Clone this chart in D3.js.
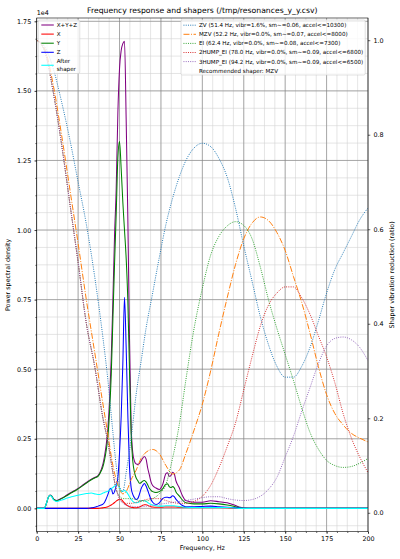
<!DOCTYPE html>
<html>
<head>
<meta charset="utf-8">
<title>Frequency response and shapers</title>
<script src="https://cdn.jsdelivr.net/npm/d3@7"></script>
<style>
  body { margin: 0; background: #fff; }
  svg { display: block; font-family: "DejaVu Sans", sans-serif; }
</style>
</head>
<body>
<svg id="chart" width="400" height="559"></svg>
<script>
// power spectral density (raw units, axis shows x1e4)
var psdFreqs = [0, 4.5, 6, 7, 8, 9, 10, 11, 12, 15, 18, 21, 24, 27, 30, 33, 35, 37, 39,
  40, 41, 42, 43, 44, 45, 46, 47, 48, 49, 50, 51, 52, 53, 54, 55, 56, 57, 58, 59, 60,
  61, 62, 63, 64, 65, 66, 67, 68, 69, 70,
  72, 74, 76, 78, 79, 80, 81, 82, 83, 84, 86, 88, 90, 95, 100, 105, 110, 115, 120, 123, 126, 130, 200];

var psdAll = [0, 0, 200, 400, 480, 450, 350, 300, 280, 360, 470, 580, 680, 800, 930, 1050, 1110, 1180, 1400,
  1600, 1900, 2300, 2900, 3900, 5400, 7500, 9800, 11500, 14200, 15800, 16450, 16700, 16780, 14000, 10500, 6200, 3000, 2000, 1700, 1600,
  1580, 1620, 1700, 1800, 1860, 1780, 1450, 1200, 950, 820,
  730, 680, 850, 1250, 1280, 1150, 1180, 1300, 1250, 1000, 750, 450, 280, 220, 220, 270, 240, 200, 100, 40, 10, 0, 0];

var psdX = [0, 0, 0, 0, 0, 0, 0, 0, 0, 0, 0, 0, 0, 0, 0, 0, 0, 0, 10,
  20, 30, 40, 60, 90, 120, 160, 210, 260, 300, 330, 320, 260, 190, 130, 90, 60, 40, 30, 20, 20,
  30, 50, 80, 110, 130, 130, 110, 80, 60, 50,
  40, 40, 40, 50, 50, 50, 50, 50, 50, 50, 40, 30, 30, 30, 40, 40, 30, 20, 10, 0, 0, 0, 0];

var psdY = [0, 0, 200, 390, 470, 440, 340, 290, 270, 350, 450, 560, 660, 780, 910, 1030, 1090, 1150, 1350,
  1500, 1750, 2100, 2600, 3500, 4800, 6800, 8800, 10600, 12600, 13180, 12200, 11000, 10000, 9000, 7500, 5000, 2700, 1700, 1300, 1100,
  1000, 900, 920, 980, 1000, 950, 850, 720, 650, 600,
  570, 600, 700, 870, 880, 780, 750, 780, 740, 600, 450, 300, 200, 160, 160, 180, 160, 120, 60, 20, 0, 0, 0];

var psdZ = [0, 0, 0, 0, 0, 0, 0, 0, 0, 0, 0, 0, 0, 0, 0, 20, 40, 80, 120,
  150, 220, 350, 500, 680, 720, 520, 600, 820, 1100, 2000, 3300, 5200, 7580, 5800, 3400, 1500, 750, 500, 380, 320,
  350, 500, 700, 820, 890, 800, 650, 480, 320, 220,
  140, 200, 350, 400, 400, 380, 400, 450, 420, 330, 200, 100, 60, 60, 70, 80, 60, 40, 20, 10, 0, 0, 0];

var psdAfter = [0, 0, 200, 400, 460, 430, 320, 270, 250, 300, 360, 420, 460, 500, 530, 550, 520, 500, 520,
  550, 570, 600, 620, 660, 700, 750, 800, 850, 850, 720, 600, 620, 640, 600, 520, 420, 330, 250, 210, 200,
  210, 240, 270, 280, 270, 250, 210, 170, 140, 120,
  90, 80, 80, 90, 90, 90, 90, 90, 90, 80, 70, 50, 40, 30, 30, 30, 30, 30, 10, 0, 0, 0, 0];

// shaper vibration reduction ratio
var shFreqs = [0, 5, 10, 15, 20, 25, 30, 35, 40, 43, 46, 48, 50, 52, 54, 57, 60, 63, 66,
  70, 74, 78, 82, 86, 90, 95, 100, 105, 110, 115, 120, 125, 130, 135, 140, 145, 150,
  155, 160, 165, 170, 175, 180, 185, 190, 195, 200];

var zv = [1.0, 0.985, 0.94, 0.87, 0.79, 0.70, 0.61, 0.50, 0.37, 0.28, 0.17, 0.10, 0.055, 0.045, 0.085, 0.157, 0.25, 0.32, 0.39,
  0.465, 0.54, 0.61, 0.665, 0.71, 0.745, 0.772, 0.782, 0.775, 0.75, 0.71, 0.645, 0.565, 0.49, 0.415, 0.355, 0.31, 0.287,
  0.287, 0.31, 0.35, 0.405, 0.465, 0.515, 0.55, 0.585, 0.62, 0.645];

var mzv = [1.0, 0.98, 0.905, 0.80, 0.685, 0.57, 0.45, 0.34, 0.23, 0.165, 0.10, 0.07, 0.05, 0.04, 0.045, 0.07, 0.09, 0.115, 0.128,
  0.134, 0.125, 0.10, 0.082, 0.09, 0.125, 0.175, 0.23, 0.30, 0.38, 0.455, 0.525, 0.58, 0.613, 0.626, 0.618, 0.593, 0.555,
  0.50, 0.445, 0.38, 0.31, 0.25, 0.21, 0.186, 0.168, 0.158, 0.15];

var ei = [1.0, 0.975, 0.89, 0.78, 0.655, 0.53, 0.40, 0.31, 0.20, 0.15, 0.085, 0.05, 0.035, 0.03, 0.03, 0.03, 0.028, 0.025, 0.025,
  0.03, 0.04, 0.06, 0.115, 0.185, 0.28, 0.39, 0.475, 0.545, 0.585, 0.607, 0.616, 0.608, 0.58, 0.52, 0.45, 0.39, 0.335,
  0.28, 0.222, 0.17, 0.135, 0.111, 0.10, 0.096, 0.098, 0.105, 0.115];

var hump2 = [1.0, 0.975, 0.89, 0.78, 0.655, 0.53, 0.40, 0.31, 0.20, 0.15, 0.085, 0.05, 0.03, 0.022, 0.02, 0.02, 0.022, 0.025, 0.028,
  0.03, 0.03, 0.026, 0.022, 0.02, 0.02, 0.024, 0.035, 0.058, 0.095, 0.14, 0.19, 0.26, 0.33, 0.395, 0.44, 0.465, 0.478,
  0.478, 0.455, 0.42, 0.375, 0.33, 0.275, 0.21, 0.158, 0.118, 0.085];

var hump3 = [1.0, 0.975, 0.89, 0.78, 0.655, 0.53, 0.40, 0.31, 0.20, 0.15, 0.085, 0.05, 0.03, 0.02, 0.016, 0.014, 0.013, 0.013, 0.014,
  0.016, 0.018, 0.02, 0.022, 0.024, 0.026, 0.029, 0.032, 0.034, 0.034, 0.03, 0.027, 0.026, 0.028, 0.035, 0.05, 0.075, 0.118,
  0.162, 0.215, 0.265, 0.315, 0.353, 0.369, 0.372, 0.366, 0.35, 0.322];

var shaperLabels = [
  "ZV (51.4 Hz, vibr=1.6%, sm~=0.06, accel<=10300)",
  "MZV (52.2 Hz, vibr=0.0%, sm~=0.07, accel<=8000)",
  "EI (62.4 Hz, vibr=0.0%, sm~=0.08, accel<=7300)",
  "2HUMP_EI (78.0 Hz, vibr=0.0%, sm~=0.09, accel<=6800)",
  "3HUMP_EI (94.2 Hz, vibr=0.0%, sm~=0.09, accel<=6500)"
];
var recommended = "Recommended shaper: MZV";

var xTicks = [0, 25, 50, 75, 100, 125, 150, 175, 200];
var yTicks = [0, 2500, 5000, 7500, 10000, 12500, 15000, 17500];
var rTicks = [0, 0.2, 0.4, 0.6, 0.8, 1.0];

var svg = d3.select("#chart");
var plotL = 36.7, plotR = 368, plotT = 18, plotB = 531.7;

var x = d3.scaleLinear().domain([0, 200]).range([plotL, plotR]);
var psdMax = d3.max(psdAll);
var yL = d3.scaleLinear().domain([-0.05 * psdMax, 1.05 * psdMax]).range([plotB, plotT]);
var yR = d3.scaleLinear().domain([-0.04, 1.047]).range([plotB, plotT]);

var xMinor = d3.range(0, 200.01, 6.25);
var yMinor = d3.range(-625, 17700, 625).filter(function(v) {
  return v >= yL.domain()[0] && v <= yL.domain()[1];
});

svg.append("defs").append("clipPath").attr("id", "plotclip")
  .append("rect").attr("x", plotL).attr("y", plotT)
  .attr("width", plotR - plotL).attr("height", plotB - plotT);

// grid
var grid = svg.append("g");
grid.selectAll(".vmin").data(xMinor).enter().append("line")
  .attr("x1", x).attr("x2", x).attr("y1", plotT).attr("y2", plotB)
  .attr("stroke", "#d3d3d3").attr("stroke-width", 0.6);
grid.selectAll(".hmin").data(yMinor).enter().append("line")
  .attr("y1", yL).attr("y2", yL).attr("x1", plotL).attr("x2", plotR)
  .attr("stroke", "#d3d3d3").attr("stroke-width", 0.6);
grid.selectAll(".vmaj").data(xTicks).enter().append("line")
  .attr("x1", x).attr("x2", x).attr("y1", plotT).attr("y2", plotB)
  .attr("stroke", "#808080").attr("stroke-width", 0.6);
grid.selectAll(".hmaj").data(yTicks).enter().append("line")
  .attr("y1", yL).attr("y2", yL).attr("x1", plotL).attr("x2", plotR)
  .attr("stroke", "#808080").attr("stroke-width", 0.6);

var plot = svg.append("g").attr("clip-path", "url(#plotclip)");

function psdLine(vals) {
  return d3.line()
    .x(function(d, i) { return x(psdFreqs[i]); })
    .y(function(d) { return yL(d); })
    .curve(d3.curveMonotoneX)(vals);
}
function shLine(vals) {
  return d3.line()
    .x(function(d, i) { return x(shFreqs[i]); })
    .y(function(d) { return yR(d); })
    .curve(d3.curveMonotoneX)(vals);
}

var psdSeries = [
  { name: "X+Y+Z", vals: psdAll, color: "#800080" },
  { name: "X", vals: psdX, color: "#ff0000" },
  { name: "Y", vals: psdY, color: "#008000" },
  { name: "Z", vals: psdZ, color: "#0000ff" },
  { name: "After\nshaper", vals: psdAfter, color: "#00ffff" }
];
psdSeries.forEach(function(s) {
  plot.append("path").attr("d", psdLine(s.vals))
    .attr("fill", "none").attr("stroke", s.color).attr("stroke-width", 1.05);
});

var dotted = "0.95,1.3", dashdot = "6,1.5,1,1.5";
var shSeries = [
  { vals: zv, color: "#1f77b4", dash: dotted },
  { vals: mzv, color: "#ff7f0e", dash: dashdot },
  { vals: ei, color: "#2ca02c", dash: dotted },
  { vals: hump2, color: "#d62728", dash: dotted },
  { vals: hump3, color: "#9467bd", dash: dotted }
];
shSeries.forEach(function(s) {
  plot.append("path").attr("d", shLine(s.vals))
    .attr("fill", "none").attr("stroke", s.color).attr("stroke-width", 1)
    .attr("stroke-dasharray", s.dash);
});

// frame
svg.append("rect").attr("x", plotL).attr("y", plotT)
  .attr("width", plotR - plotL).attr("height", plotB - plotT)
  .attr("fill", "none").attr("stroke", "#000").attr("stroke-width", 0.6);

function styleAxis(g) {
  g.select(".domain").remove();
  g.selectAll("line").attr("stroke", "#000").attr("stroke-width", 0.6);
  g.selectAll("text").attr("font-family", "DejaVu Sans").attr("font-size", 6.4).attr("fill", "#000");
}

svg.append("g").attr("transform", "translate(0," + plotB + ")")
  .call(d3.axisBottom(x).tickValues(xMinor).tickSize(1.3).tickFormat(""))
  .call(styleAxis);
svg.append("g").attr("transform", "translate(0," + plotB + ")")
  .call(d3.axisBottom(x).tickValues(xTicks).tickSize(2.3).tickPadding(2.6).tickFormat(d3.format("d")))
  .call(styleAxis);
svg.append("g").attr("transform", "translate(" + plotL + ",0)")
  .call(d3.axisLeft(yL).tickValues(yMinor).tickSize(1.3).tickFormat(""))
  .call(styleAxis);
svg.append("g").attr("transform", "translate(" + plotL + ",0)")
  .call(d3.axisLeft(yL).tickValues(yTicks).tickSize(2.3).tickPadding(3.2)
    .tickFormat(function(d) { return (d / 1e4).toFixed(2); }))
  .call(styleAxis);
svg.append("g").attr("transform", "translate(" + plotR + ",0)")
  .call(d3.axisRight(yR).tickValues(rTicks).tickSize(2.3).tickPadding(3.2).tickFormat(d3.format(".1f")))
  .call(styleAxis);

svg.append("text").attr("x", plotL).attr("y", 15)
  .attr("font-size", 6.4).text("1e4");

svg.append("text").attr("x", (plotL + plotR) / 2).attr("y", 12.6)
  .attr("text-anchor", "middle").attr("font-size", 7.7)
  .text("Frequency response and shapers (/tmp/resonances_y_y.csv)");

svg.append("text").attr("x", (plotL + plotR) / 2).attr("y", 550)
  .attr("text-anchor", "middle").attr("font-size", 6.4).text("Frequency, Hz");

svg.append("text").attr("transform", "translate(10," + (plotT + plotB) / 2 + ") rotate(-90)")
  .attr("text-anchor", "middle").attr("font-size", 6.4).text("Power spectral density");

svg.append("text").attr("transform", "translate(394," + (plotT + plotB) / 2 + ") rotate(-90)")
  .attr("text-anchor", "middle").attr("font-size", 6.4).text("Shaper vibration reduction (ratio)");

// left legend
var legFont = 5.6, rowH = 9.1;
var legL = svg.append("g");
var legLbox = legL.append("rect");
var lrow = 0, lx = 39.3;
psdSeries.forEach(function(s) {
  var lines = s.name.split("\n");
  var cy = 25 + lrow * rowH + (lines.length - 1) * rowH / 2 * 0.85;
  legL.append("line").attr("x1", lx + 2).attr("x2", lx + 14.5)
    .attr("y1", cy).attr("y2", cy).attr("stroke", s.color).attr("stroke-width", 1.05);
  lines.forEach(function(t, k) {
    legL.append("text").attr("class", "lt").attr("x", lx + 17.4)
      .attr("y", 25 + lrow * rowH + k * rowH * 0.85).attr("dy", "0.35em")
      .attr("font-size", legFont).text(t);
  });
  lrow += lines.length === 1 ? 1 : 1.85;
});
var lw = d3.max(legL.selectAll(".lt").nodes(), function(n) { return n.getComputedTextLength(); });
legLbox.attr("x", lx - 1).attr("y", 20).attr("width", lw + 21).attr("height", 53.5)
  .attr("rx", 1.5).attr("fill", "#fff").attr("fill-opacity", 0.8)
  .attr("stroke", "#cccccc").attr("stroke-width", 0.6);

// right legend
var legR = svg.append("g");
var legRbox = legR.append("rect");
var rTexts = shaperLabels.concat([recommended]);
var rightEdge = 365.2;
var tnodes = rTexts.map(function(t, i) {
  return legR.append("text").attr("y", 25.2 + i * rowH).attr("dy", "0.35em")
    .attr("font-size", legFont).text(t);
});
var rw = d3.max(tnodes, function(n) { return n.node().getComputedTextLength(); });
var textX = rightEdge - 2 - rw;
tnodes.forEach(function(n) { n.attr("x", textX); });
shSeries.forEach(function(s, i) {
  legR.append("line").attr("x1", textX - 15.5).attr("x2", textX - 3)
    .attr("y1", 25.2 + i * rowH).attr("y2", 25.2 + i * rowH)
    .attr("stroke", s.color).attr("stroke-width", 1).attr("stroke-dasharray", s.dash);
});
legRbox.attr("x", textX - 18).attr("y", 20).attr("width", rightEdge - textX + 18).attr("height", 55)
  .attr("rx", 1.5).attr("fill", "#fff").attr("fill-opacity", 0.8)
  .attr("stroke", "#cccccc").attr("stroke-width", 0.6);
</script>
</body>
</html>
